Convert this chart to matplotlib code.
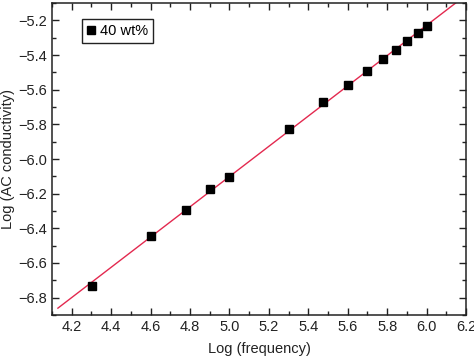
import matplotlib
matplotlib.use("Agg")
import matplotlib.pyplot as plt
import numpy as np
from matplotlib.ticker import MultipleLocator

plt.rcParams['font.family'] = ['Liberation Sans', 'DejaVu Sans']

# data
log_freq = [4.301, 4.602, 4.778, 4.903, 5.000, 5.301, 5.477,
            5.602, 5.699, 5.778, 5.845, 5.903, 5.954, 6.000]
log_cond = [-6.734, -6.443, -6.293, -6.174, -6.101, -5.825, -5.672,
            -5.574, -5.493, -5.424, -5.370, -5.319, -5.275, -5.235]
series_label = "40 wt%"

fig = plt.figure(figsize=(4.74, 3.56), dpi=100)
ax = fig.add_axes([52/474, 1 - 315/356, (466 - 52)/474, (315 - 3)/356])

# linear fit
slope, icpt = np.polyfit(log_freq, log_cond, 1)
xfit = np.array([4.13, 6.25])
ax.plot(xfit, slope * xfit + icpt, color='#e3294f', lw=1.0, zorder=2)

ax.plot(log_freq, log_cond, 's', color='black', ms=5.2, label=series_label, zorder=3)

ax.set_xlim(4.1, 6.2)
ax.set_ylim(-6.9, -5.1)
ax.xaxis.set_major_locator(MultipleLocator(0.2))
ax.xaxis.set_minor_locator(MultipleLocator(0.1))
ax.yaxis.set_major_locator(MultipleLocator(0.2))
ax.yaxis.set_minor_locator(MultipleLocator(0.1))
fmt = plt.FuncFormatter(lambda v, p: f"{v:.1f}".replace('-', '\u2212'))
ax.xaxis.set_major_formatter(fmt)
ax.yaxis.set_major_formatter(fmt)

ax.tick_params(which='both', direction='in', top=True, right=True, labelsize=10.5, colors='#222222')
ax.tick_params(which='major', length=5, width=1)
ax.tick_params(which='minor', length=3, width=1)
for s in ax.spines.values():
    s.set_linewidth(1.1)
    s.set_color('#222222')

ax.set_xlabel("Log (frequency)", fontsize=10.5, labelpad=6, color='#222222')
ax.set_ylabel("Log (AC conductivity)", fontsize=10.5, labelpad=2, color='#222222')

leg = ax.legend(loc='upper left', bbox_to_anchor=(0.072, 0.95), borderaxespad=0,
                fontsize=10.5, handletextpad=0.3, handlelength=0.6, borderpad=0.35,
                fancybox=False, framealpha=1, edgecolor='#222222')
leg.get_frame().set_linewidth(1.0)

fig.savefig("out.png", dpi=100)
